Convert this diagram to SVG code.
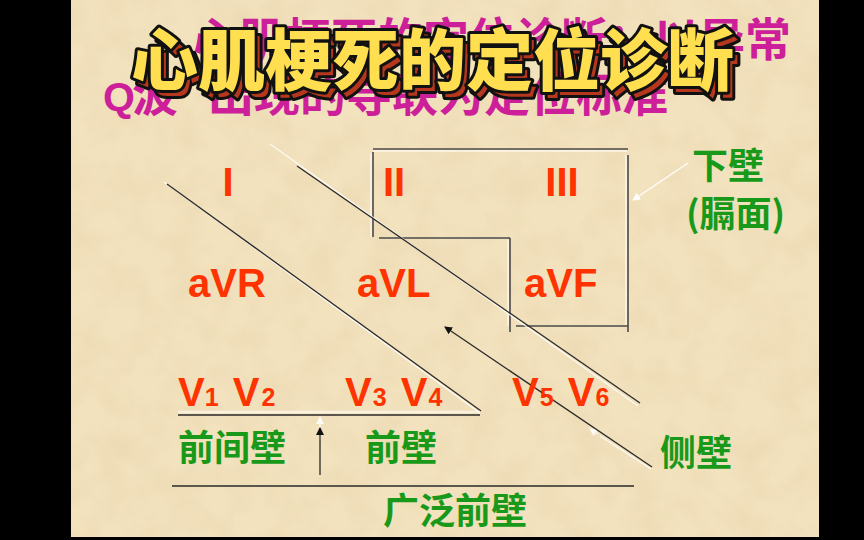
<svg xmlns="http://www.w3.org/2000/svg" width="864" height="540" viewBox="0 0 864 540">
<defs>
<style>
.red{font-family:"Liberation Sans",Arial,sans-serif;font-weight:bold;font-size:40px;fill:#ff3300}
.sub{font-size:25px}
.green{font-family:"Noto Sans CJK SC",sans-serif;font-weight:bold;font-size:36px;fill:#18991a}
.mag{font-family:"Noto Sans CJK SC",sans-serif;font-weight:bold;font-size:46px;fill:#cc1f99}
.lat{font-family:"Liberation Sans",Arial,sans-serif;font-size:41px}
.title{font-family:"Noto Sans CJK SC",sans-serif;font-weight:900;font-size:67px;stroke:#111;stroke-width:6;stroke-linejoin:round;paint-order:stroke}
.dk{stroke:#2a2a2a;stroke-width:1.3;fill:none}
.wh{stroke:#ffffff;stroke-width:1.3;fill:none;opacity:0.85}
.box{stroke:#4a4a4a;stroke-width:1.6;fill:none}
.boxw{stroke:#fffaf0;stroke-width:1.4;fill:none;opacity:0.9}
</style>
<marker id="ah" markerWidth="8" markerHeight="8" refX="7" refY="4" orient="auto" markerUnits="userSpaceOnUse">
<path d="M0,0 L8,4 L0,8 Z" fill="#111"/>
</marker>
<marker id="ahw" markerWidth="8" markerHeight="8" refX="7" refY="4" orient="auto" markerUnits="userSpaceOnUse">
<path d="M0,0 L8,4 L0,8 Z" fill="#fff"/>
</marker>
<filter id="paper" x="0" y="0" width="100%" height="100%">
<feTurbulence type="fractalNoise" baseFrequency="0.03" numOctaves="4" seed="7"/>
<feColorMatrix type="matrix" values="0 0 0 0 0.80  0 0 0 0 0.66  0 0 0 0 0.42  1.7 0 0 0 -0.64"/>
</filter>
</defs>
<rect x="0" y="0" width="864" height="540" fill="#000"/>
<rect x="71" y="0" width="748" height="537" fill="#f2e2bd"/>
<rect x="71" y="0" width="748" height="537" filter="url(#paper)" opacity="0.6"/>

<g id="subtitle">
<text class="mag" x="193" y="56">心肌梗死的定位诊断：以异常</text>
<text class="mag" y="111"><tspan class="lat" x="103">Q</tspan><tspan x="132">波</tspan><tspan x="170">“</tspan><tspan x="208">出现的导联为定位标准</tspan></text>
</g>
<g id="title">
<text class="title" x="136" y="91" fill="#b5381e">心肌梗死的定位诊断</text>
<text class="title" x="131" y="85" fill="#ffdf4f">心肌梗死的定位诊断</text>
</g>

<g id="connectors">
<line class="boxw" x1="371" y1="153" x2="371" y2="237"/>
<line class="boxw" x1="508" y1="240" x2="508" y2="326"/>
<line class="boxw" x1="626" y1="155" x2="626" y2="325"/>
<line class="boxw" x1="373" y1="151" x2="627" y2="151"/>
<line class="box" x1="373" y1="149" x2="628" y2="149"/>
<line class="box" x1="373" y1="152" x2="373" y2="237"/>
<line class="box" x1="379" y1="238" x2="510" y2="238"/>
<line class="box" x1="510" y1="238" x2="510" y2="332"/>
<line class="box" x1="516" y1="326" x2="628" y2="326"/>
<line class="box" x1="628" y1="155" x2="628" y2="332"/>
<line class="wh" x1="164" y1="182" x2="480" y2="413"/>
<line class="dk" x1="167" y1="184" x2="481" y2="411"/>
<line class="wh" x1="270" y1="144" x2="638" y2="406"/>
<line class="dk" x1="297" y1="166" x2="640" y2="403"/>
<line class="wh" x1="600" y1="436" x2="651" y2="469"/>
<line class="wh" x1="598" y1="434" x2="590" y2="429" marker-end="url(#ahw)"/>
<line class="dk" x1="652" y1="467" x2="445" y2="327" marker-end="url(#ah)"/>
<line x1="178" y1="412" x2="480" y2="412" stroke="#fffaf0" stroke-width="2.5" opacity="0.7"/>
<line class="dk" x1="178" y1="415" x2="480" y2="415"/>
<line class="dk" x1="172" y1="486" x2="634" y2="486"/>
<line class="wh" x1="320" y1="440" x2="320" y2="417" marker-end="url(#ahw)"/>
<line class="dk" x1="320" y1="475" x2="320" y2="428" marker-end="url(#ah)"/>
<line x1="688" y1="163" x2="633" y2="200" stroke="#fff" stroke-width="1.3" marker-end="url(#ahw)"/>
</g>

<g id="lead-I"><text class="red" x="228" y="196" text-anchor="middle">I</text></g>
<g id="lead-II"><text class="red" x="394" y="196" text-anchor="middle">II</text></g>
<g id="lead-III"><text class="red" x="562" y="196" text-anchor="middle">III</text></g>
<g id="lead-aVR"><text class="red" x="188" y="297">aVR</text></g>
<g id="lead-aVL"><text class="red" x="357" y="297">aVL</text></g>
<g id="lead-aVF"><text class="red" x="524" y="297">aVF</text></g>
<g id="lead-V1V2"><text class="red" x="178" y="406">V<tspan class="sub">1</tspan><tspan dx="3"> V</tspan><tspan class="sub" dx="2">2</tspan></text></g>
<g id="lead-V3V4"><text class="red" x="345" y="406">V<tspan class="sub" dx="1">3</tspan><tspan dx="3"> V</tspan><tspan class="sub" dx="1">4</tspan></text></g>
<g id="lead-V5V6"><text class="red" x="512" y="406">V<tspan class="sub" dx="1">5</tspan><tspan dx="3"> V</tspan><tspan class="sub" dx="1">6</tspan></text></g>

<g id="inferior-wall">
<text class="green" x="692" y="179">下壁</text>
<text class="green" x="686" y="227">(膈面)</text>
</g>
<g id="anteroseptal"><text class="green" x="178" y="461">前间壁</text></g>
<g id="anterior"><text class="green" x="365" y="461">前壁</text></g>
<g id="lateral"><text class="green" x="660" y="466">侧壁</text></g>
<g id="extensive-anterior"><text class="green" x="383" y="524">广泛前壁</text></g>
</svg>
